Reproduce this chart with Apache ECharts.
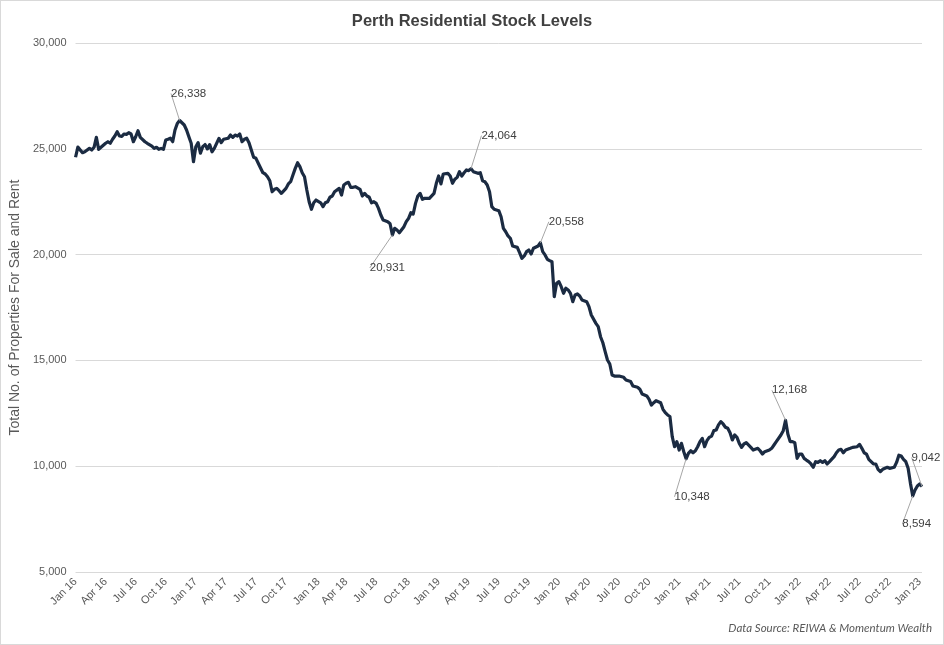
<!DOCTYPE html>
<html>
<head>
<meta charset="utf-8">
<script src="https://cdn.jsdelivr.net/npm/echarts@6/dist/echarts.min.js"></script>
<style>
html, body { margin: 0; padding: 0; background: #fff; }
#stock-chart { width: 944px; height: 645px; }
#frame { position: absolute; left: 0; top: 0; width: 944px; height: 645px; box-sizing: border-box; border: 1px solid #d9d9d9; pointer-events: none; }
</style>
</head>
<body>
<div id="stock-chart"></div>
<div id="frame"></div>
<script>
// week number counted from 3 Jan 2016 (weekly REIWA listings)
var weekNo = [
  0, 1, 3, 4, 6, 7, 8, 9, 10, 11,
  13, 14, 15, 16, 17, 18, 19, 20, 21, 22,
  23, 24, 25, 26, 27, 28, 30, 31, 33, 34,
  35, 36, 37, 38, 39, 40, 41, 42, 43, 44,
  45, 47, 48, 49, 50, 51, 52, 53, 54, 55,
  56, 57, 58, 59, 60, 61, 62, 63, 64, 66,
  67, 68, 69, 70, 71, 72, 73, 74, 75, 76,
  77, 78, 79, 81, 82, 83, 84, 85, 86, 87,
  88, 89, 91, 92, 93, 94, 95, 96, 97, 98,
  99, 100, 101, 102, 103, 104, 106, 107, 108, 109,
  110, 111, 112, 114, 115, 116, 117, 118, 119, 120,
  121, 123, 124, 125, 126, 127, 128, 129, 130, 131,
  132, 133, 135, 136, 137, 138, 139, 140, 142, 143,
  144, 145, 146, 147, 148, 149, 150, 151, 153, 155,
  156, 157, 158, 159, 161, 162, 163, 164, 165, 166,
  167, 168, 169, 170, 171, 172, 174, 175, 176, 177,
  178, 179, 180, 181, 183, 184, 185, 186, 187, 188,
  189, 191, 192, 193, 194, 195, 196, 197, 198, 200,
  201, 202, 203, 204, 205, 206, 207, 208, 209, 210,
  211, 212, 213, 214, 215, 216, 217, 218, 219, 221,
  222, 223, 225, 226, 227, 228, 229, 230, 231, 232,
  233, 235, 237, 238, 240, 241, 243, 244, 245, 247,
  248, 249, 250, 251, 253, 254, 255, 256, 257, 258,
  259, 260, 261, 262, 263, 264, 265, 266, 267, 268,
  269, 270, 271, 272, 273, 274, 275, 276, 277, 278,
  279, 280, 281, 282, 283, 284, 285, 286, 287, 288,
  289, 290, 292, 293, 295, 296, 297, 298, 300, 301,
  302, 303, 305, 306, 307, 308, 309, 310, 311, 312,
  313, 314, 315, 316, 317, 318, 319, 320, 321, 322,
  323, 324, 325, 326, 328, 329, 330, 331, 332, 333,
  335, 336, 338, 339, 340, 341, 342, 343, 345, 346,
  347, 348, 349, 351, 352, 354, 355, 356, 357, 358,
  359, 360, 361, 362, 363, 364, 365, 366
];
// total properties for sale and rent
var stock = [
  24600, 25080, 24815, 24860, 25020, 24940, 25070, 25540, 24975, 25070,
  25260, 25335, 25260, 25450, 25605, 25810, 25605, 25590, 25700, 25680,
  25760, 25700, 25335, 25570, 25855, 25540, 25335, 25260, 25130, 25020,
  25070, 24975, 25020, 24975, 25415, 25450, 25500, 25335, 25890, 26200,
  26338, 26125, 25890, 25570, 25260, 24390, 25100, 25290, 24790, 25100,
  25200, 24995, 25200, 24860, 25020, 25260, 25495, 25290, 25450, 25500,
  25650, 25540, 25650, 25600, 25700, 25335, 25450, 25500, 25290, 24940,
  24600, 24550, 24315, 23870, 23810, 23680, 23490, 22970, 23085, 23130,
  23020, 22895, 23130, 23340, 23445, 23760, 24075, 24340, 24155, 23870,
  23680, 23050, 22500, 22140, 22450, 22580, 22450, 22265, 22450, 22500,
  22710, 22770, 22970, 23130, 22815, 23290, 23370, 23415, 23180, 23180,
  23210, 23085, 22770, 22895, 22770, 22710, 22450, 22500, 22420, 22185,
  21870, 21635, 21555, 21460, 20931, 21240, 21160, 21035, 21320, 21555,
  21715, 21980, 21920, 22420, 22770, 22895, 22610, 22660, 22660, 22895,
  23370, 23715, 23340, 23810, 23840, 23715, 23370, 23560, 23650, 23920,
  23715, 23870, 24000, 23970, 24064, 23920, 23840, 23870, 23490, 23440,
  23290, 22970, 22265, 22140, 22075, 21790, 21240, 21080, 20880, 20770,
  20405, 20340, 20090, 19825, 19935, 20140, 20215, 20030, 20300, 20405,
  20558, 20140, 19985, 19780, 19715, 19665, 18010, 18645, 18720, 18485,
  18170, 18410, 18330, 18170, 17775, 18090, 18140, 18045, 17855, 17775,
  17540, 17145, 16750, 16595, 16120, 15835, 15410, 15020, 14830, 14310,
  14260, 14260, 14200, 14075, 14000, 13790, 13730, 13635, 13410, 13320,
  13160, 12890, 13000, 13095, 13000, 12690, 12530, 12420, 12350, 11400,
  10920, 11160, 10765, 11080, 10685, 10348, 10605, 10730, 10635, 10730,
  10920, 11160, 11315, 10920, 11205, 11365, 11425, 11680, 11710, 11950,
  12105, 11995, 11840, 11790, 11585, 11240, 11475, 11365, 11080, 10890,
  11050, 11110, 10890, 10765, 10845, 10730, 10575, 10685, 10765, 10845,
  11000, 11160, 11475, 11680, 12168, 11525, 11160, 11160, 11110, 10370,
  10575, 10575, 10370, 10290, 10215, 10105, 9950, 10215, 10180, 10260,
  10180, 10260, 10105, 10215, 10450, 10635, 10765, 10800, 10635, 10765,
  10845, 10890, 10920, 11030, 10845, 10635, 10575, 10325, 10105, 10105,
  9855, 9745, 9855, 9950, 9900, 9950, 10180, 10520, 10480, 10325,
  10215, 9900, 9190, 8594, 8875, 9065, 9160, 9042
];
// weeks that carry a value callout
var calloutWeeks = [45, 137, 171, 201, 264, 307, 362, 366];
var tickMonths = ['Jan', 'Apr', 'Jul', 'Oct'];
var monthNames = ['Jan', 'Feb', 'Mar', 'Apr', 'May', 'Jun', 'Jul', 'Aug', 'Sep', 'Oct', 'Nov', 'Dec'];

// label placement for the callouts: [position, dx, dy]
var calloutStyle = {
  45: ['top', 9, -16],
  137: ['bottom', -5, 22],
  171: ['top', 28, -22],
  201: ['top', 26, -10],
  264: ['bottom', 6, 27],
  307: ['top', 4, -19],
  362: ['bottom', 4, 17],
  366: ['top', 4, -18]
};

var start = Date.UTC(2016, 0, 3);
var weekDates = [];
var nWeeks = weekNo[weekNo.length - 1] + 1;
for (var i = 0; i < nWeeks; i++) {
  weekDates.push(new Date(start + i * 7 * 86400000).toISOString().slice(0, 10));
}

var seriesData = weekDates.map(function () { return null; });
for (var k = 0; k < weekNo.length; k++) {
  seriesData[weekNo[k]] = stock[k];
}
calloutWeeks.forEach(function (w) {
  seriesData[w] = {
    value: seriesData[w],
    label: { show: true, position: calloutStyle[w][0] }
  };
});

function monthOf(d) { return parseInt(d.slice(5, 7), 10) - 1; }

function fmt(n) { return n.toString().replace(/\B(?=(\d{3})+(?!\d))/g, ','); }

var stockChart = echarts.init(document.getElementById('stock-chart'));

stockChart.setOption({
  animation: false,
  textStyle: { fontFamily: "'Liberation Sans', Arial, sans-serif" },
  title: [{
    text: 'Perth Residential Stock Levels',
    left: 'center',
    top: 8,
    textStyle: { fontSize: 16.5, fontWeight: 'bold', color: '#404040', fontFamily: "'Liberation Sans', Arial, sans-serif" }
  }, {
    text: 'Data Source: REIWA & Momentum Wealth',
    right: 7,
    bottom: 6,
    textStyle: { fontSize: 11.5, fontStyle: 'italic', fontWeight: 'normal', color: '#595959', fontFamily: 'Lato' }
  }],
  grid: { left: 75, right: 22, top: 43, bottom: 73 },
  xAxis: {
    type: 'category',
    data: weekDates,
    boundaryGap: false,
    axisLine: { show: false },
    axisTick: { show: false },
    splitLine: { show: false },
    axisLabel: {
      rotate: 45,
      fontSize: 11,
      color: '#595959',
      margin: 8,
      interval: function (index, value) {
        var m = monthOf(value);
        if (tickMonths.indexOf(monthNames[m]) < 0) return false;
        return index === 0 || monthOf(weekDates[index - 1]) !== m;
      },
      formatter: function (value) {
        return monthNames[monthOf(value)] + ' ' + value.slice(2, 4);
      }
    }
  },
  yAxis: {
    type: 'value',
    min: 5000,
    max: 30000,
    interval: 5000,
    name: 'Total No. of Properties For Sale and Rent',
    nameLocation: 'middle',
    nameGap: 46,
    nameTextStyle: { fontSize: 14, color: '#595959' },
    axisLine: { show: false },
    axisTick: { show: false },
    axisLabel: {
      fontSize: 11,
      color: '#595959',
      margin: 9,
      formatter: function (v) { return fmt(v); }
    },
    splitLine: { lineStyle: { color: '#d9d9d9', width: 1 } }
  },
  series: [{
    name: 'Stock',
    type: 'line',
    data: seriesData,
    connectNulls: true,
    showSymbol: true,
    showAllSymbol: true,
    symbol: 'circle',
    symbolSize: 0,
    lineStyle: { color: '#1b2b42', width: 3.2, join: 'round' },
    itemStyle: { color: '#1b2b42' },
    label: {
      show: false,
      fontSize: 11.5,
      color: '#404040',
      formatter: function (p) { return fmt(p.value); }
    },
    labelLine: { show: true, lineStyle: { color: '#a6a6a6', width: 1 } },
    labelLayout: function (p) {
      var s = calloutStyle[p.dataIndex];
      return s ? { dx: s[1], dy: s[2] } : {};
    },
    emphasis: { disabled: true }
  }]
});
</script>
</body>
</html>
